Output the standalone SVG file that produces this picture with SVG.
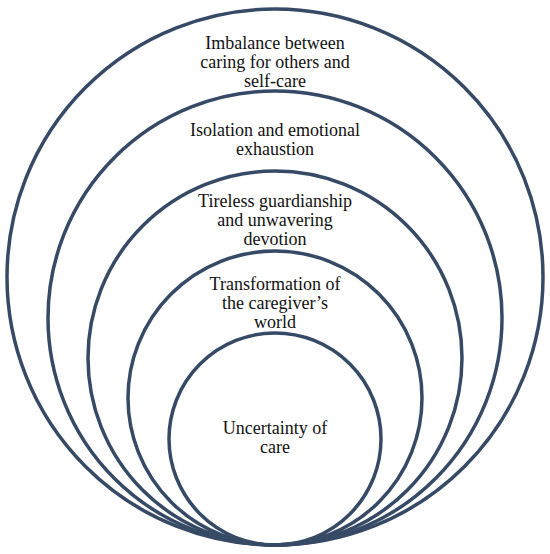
<svg xmlns="http://www.w3.org/2000/svg" width="550" height="554" viewBox="0 0 550 554">
  <style>
    .ring { fill: none; stroke: #374a65; stroke-width: 3.5; }
    .lbl { font-family: "Liberation Serif", "Times New Roman", serif; font-size: 18px; fill: #111; text-anchor: middle; }
  </style>
  <rect width="550" height="554" fill="#ffffff"/>
  <g id="ring1">
    <circle class="ring" cx="275" cy="277" r="268"/>
    <text class="lbl" x="275" y="49">Imbalance between</text>
    <text class="lbl" x="275" y="68">caring for others and</text>
    <text class="lbl" x="275" y="87">self-care</text>
  </g>
  <g id="ring2">
    <circle class="ring" cx="275" cy="318" r="227"/>
    <text class="lbl" x="275" y="136">Isolation and emotional</text>
    <text class="lbl" x="275" y="155">exhaustion</text>
  </g>
  <g id="ring3">
    <circle class="ring" cx="275" cy="358" r="187"/>
    <text class="lbl" x="275" y="207">Tireless guardianship</text>
    <text class="lbl" x="275" y="226">and unwavering</text>
    <text class="lbl" x="275" y="245">devotion</text>
  </g>
  <g id="ring4">
    <circle class="ring" cx="275" cy="398" r="147"/>
    <text class="lbl" x="275" y="290">Transformation of</text>
    <text class="lbl" x="275" y="309">the caregiver’s</text>
    <text class="lbl" x="275" y="328">world</text>
  </g>
  <g id="ring5">
    <circle class="ring" cx="275" cy="439" r="106"/>
    <text class="lbl" x="275" y="434">Uncertainty of</text>
    <text class="lbl" x="275" y="453">care</text>
  </g>
  <g id="connectors"/>
</svg>
